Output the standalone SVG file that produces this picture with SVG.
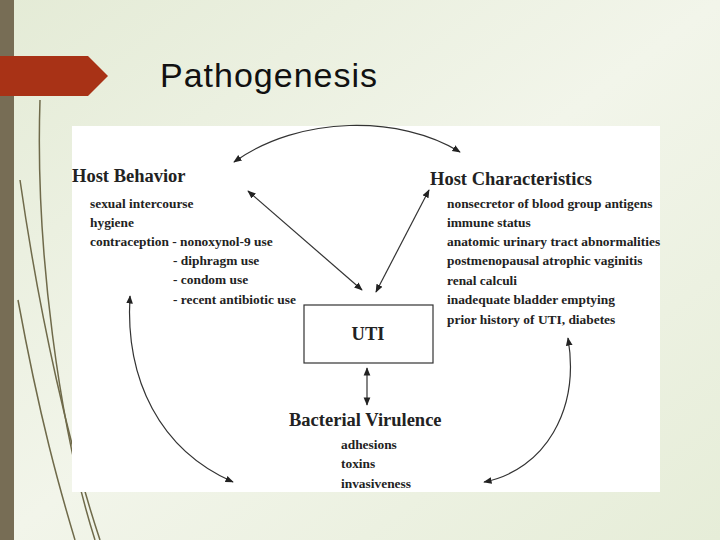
<svg xmlns="http://www.w3.org/2000/svg" width="720" height="540" viewBox="0 0 720 540">
<defs>
<linearGradient id="bg" x1="0" y1="0" x2="1" y2="1"><stop offset="0" stop-color="#e4ebd6"/><stop offset="0.5" stop-color="#f2f5ea"/><stop offset="1" stop-color="#e6edd8"/></linearGradient>
<marker id="ah" viewBox="0 0 10 10" refX="9" refY="5" markerWidth="7" markerHeight="7" orient="auto-start-reverse"><path d="M0,1 L10,5 L0,9 z" fill="#222"/></marker>
<style>
.t{font-family:"Liberation Serif",serif;font-weight:bold;fill:#222}
.h{font-size:18.5px}.s{font-size:13.4px}
.c{fill:none;stroke:#333;stroke-width:1.2;marker-start:url(#ah);marker-end:url(#ah)}
</style>
</defs>
<rect width="720" height="540" fill="url(#bg)"/>
<rect x="0" y="0" width="14" height="540" fill="#776d55"/>
<g fill="none" stroke="#6f6a4a" stroke-width="1.5">
<path d="M40,100 C35,250 60,430 95,540"/>
<path d="M20,180 C40,320 70,450 100,540"/>
<path d="M18,300 C40,420 60,490 75,540"/>
</g>
<g id="banner"><path d="M0,56 H88 L108,76 L88,96 H0 z" fill="#a83216"/></g>
<text x="160" y="87" font-family="Liberation Sans,sans-serif" font-size="34" letter-spacing="1" fill="#111">Pathogenesis</text>
<rect x="72" y="126" width="588" height="366" fill="#fff"/>
<g id="hostBehavior" class="t">
<text x="72" y="182" class="h">Host Behavior</text>
<text x="90" y="208" class="s">sexual intercourse</text>
<text x="90" y="227" class="s">hygiene</text>
<text x="90" y="246" class="s">contraception - nonoxynol-9 use</text>
<text x="173" y="265" class="s">- diphragm use</text>
<text x="173" y="284" class="s">- condom use</text>
<text x="173" y="304" class="s">- recent antibiotic use</text>
</g>
<g id="hostChar" class="t">
<text x="430" y="185" class="h">Host Characteristics</text>
<text x="447" y="208" class="s">nonsecretor of blood group antigens</text>
<text x="447" y="227" class="s">immune status</text>
<text x="447" y="246" class="s">anatomic urinary tract abnormalities</text>
<text x="447" y="265" class="s">postmenopausal atrophic vaginitis</text>
<text x="447" y="285" class="s">renal calculi</text>
<text x="447" y="304" class="s">inadequate bladder emptying</text>
<text x="447" y="324" class="s">prior history of UTI, diabetes</text>
</g>
<g id="uti">
<rect x="304" y="305" width="129" height="58" fill="#fff" stroke="#333" stroke-width="1.2"/>
<text x="368" y="340" class="t h" text-anchor="middle">UTI</text>
</g>
<g id="bacterial" class="t">
<text x="289" y="426" class="h">Bacterial Virulence</text>
<text x="341" y="449" class="s">adhesions</text>
<text x="341" y="468" class="s">toxins</text>
<text x="341" y="488" class="s">invasiveness</text>
</g>
<g id="connectors">
<path class="c" d="M234,162 C300,115 400,115 460,152"/>
<path class="c" d="M248,191 L362,290"/>
<path class="c" d="M429,190 L376,292"/>
<path class="c" d="M367,368 L367,405"/>
<path class="c" d="M130,296 C125,380 160,450 233,482"/>
<path class="c" d="M568,338 C580,410 545,470 484,482"/>
</g>
</svg>
